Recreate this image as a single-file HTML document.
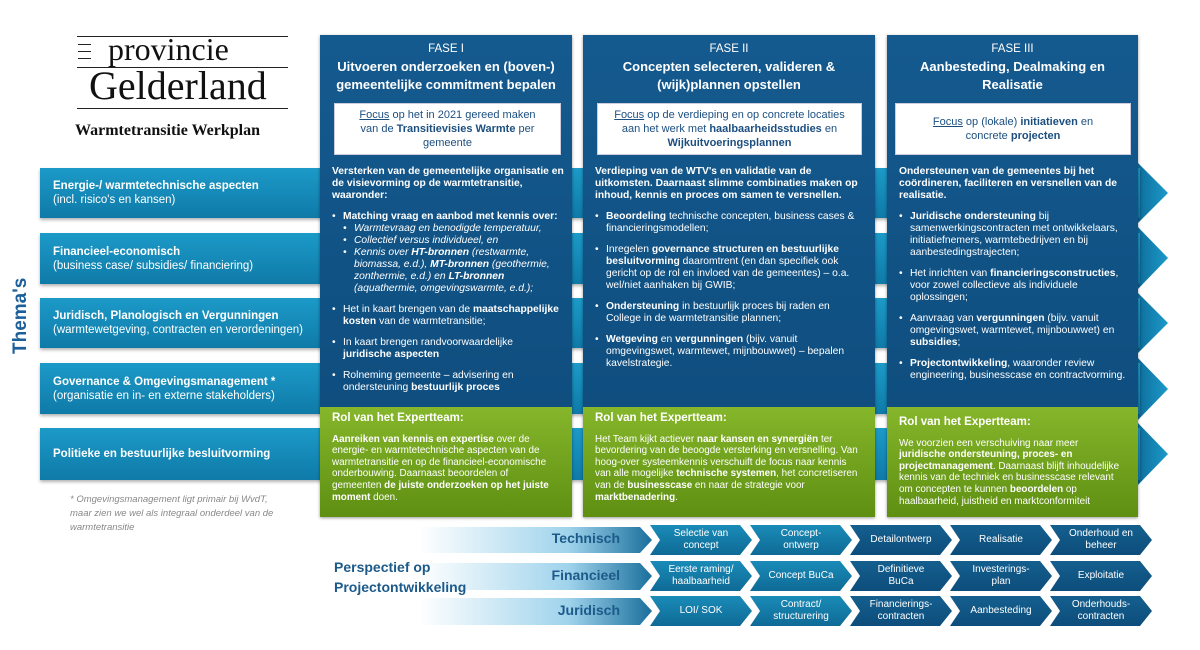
<!DOCTYPE html>
<html><head><meta charset="utf-8"><style>
*{margin:0;padding:0;box-sizing:border-box}
body{width:1200px;height:650px;background:#fff;position:relative;overflow:hidden;font-family:"Liberation Sans",sans-serif}
.a{position:absolute}
.bar{position:absolute;left:40px;width:1100px;background:linear-gradient(#1c9ac8,#0f7aa8);box-shadow:0 2px 3px rgba(0,0,0,.3);color:#fff;font-size:11.5px;padding-left:13px;line-height:14px;display:flex;flex-direction:column;justify-content:center}
.bar b{font-weight:bold}
.col{position:absolute;top:35px;background:linear-gradient(#155a8f,#0d4a7a);color:#fff;box-shadow:0 1px 3px rgba(0,0,0,.4)}
.hd{text-align:center;font-size:12.5px;line-height:17px;padding-top:6px}
.hd .f{font-size:11.5px}
.hd b{font-size:13px}
.focus{position:absolute;top:68px;height:52px;background:#fff;color:#1c4f80;font-size:11px;text-align:center;line-height:14px;display:flex;align-items:center;justify-content:center;border:1px solid #ccd}
.body{position:absolute;top:131px;left:12px;right:8px;font-size:10.3px;line-height:12px}
.body ul{list-style:none;margin-top:9px}
.body li{position:relative;padding-left:11px;margin-bottom:9px}
.body li:before{content:"•";position:absolute;left:0}
.body ul ul{margin-top:0}
.body ul ul li{margin-bottom:0;font-style:italic}
.green{position:absolute;top:372px;left:0;right:0;height:110px;background:linear-gradient(#86b62a,#5e8f12);padding:6px 12px;font-size:9.9px;line-height:11.6px}
.green .t{font-size:11.5px;font-weight:bold;margin-bottom:9px}
.lbl{position:absolute;font-weight:bold;color:#1c5a8a;font-size:14px;text-align:right}
.ch{position:absolute;color:#fff;font-size:10px;text-align:center;line-height:12px;display:flex;align-items:center;justify-content:center}
</style></head><body>
<div class="a" style="left:77px;top:36px;width:211px;height:1px;background:#222"></div>
<div class="a" style="left:77px;top:67px;width:211px;height:1px;background:#222"></div>
<div class="a" style="left:77px;top:108px;width:211px;height:1px;background:#222"></div>
<div class="a" style="left:78px;top:44px;width:13px;height:1px;background:#222"></div>
<div class="a" style="left:78px;top:51px;width:13px;height:1px;background:#222"></div>
<div class="a" style="left:78px;top:58px;width:13px;height:1px;background:#222"></div>
<div class="a" style="left:108px;top:31px;font-family:'Liberation Serif',serif;font-size:32px;color:#111">provincie</div>
<div class="a" style="left:89px;top:64px;font-family:'Liberation Serif',serif;font-size:40px;color:#111;line-height:44px">Gelderland</div>
<div class="a" style="left:75px;top:122px;font-family:'Liberation Serif',serif;font-size:16px;font-weight:bold;color:#111">Warmtetransitie Werkplan</div>
<div class="a" style="left:10px;top:354px;transform:rotate(-90deg);transform-origin:left top;font-size:19px;font-weight:bold;color:#1c5f99;width:90px">Thema's</div>

<svg class="a" style="left:0;top:0" width="1200" height="650">
<defs><linearGradient id="ag" x1="0" x2="1"><stop offset="0" stop-color="#0d6d9c"/><stop offset="1" stop-color="#1c9ac8"/></linearGradient></defs>
<polygon points="1137,162 1168,193 1137,224" fill="url(#ag)"/>
<polygon points="1137,226 1168,258 1137,290" fill="url(#ag)"/>
<polygon points="1137,292 1168,323 1137,354" fill="url(#ag)"/>
<polygon points="1137,357 1168,389 1137,421" fill="url(#ag)"/>
<polygon points="1137,422 1168,454 1137,486" fill="url(#ag)"/>
</svg>
<div class="bar" style="top:168px;height:50px"><b>Energie-/ warmtetechnische aspecten</b>(incl. risico's en kansen)</div>
<div class="bar" style="top:233px;height:51px"><b>Financieel-economisch</b>(business case/ subsidies/ financiering)</div>
<div class="bar" style="top:298px;height:50px"><b>Juridisch, Planologisch en Vergunningen</b>(warmtewetgeving, contracten en verordeningen)</div>
<div class="bar" style="top:363px;height:51px"><b>Governance &amp; Omgevingsmanagement *</b>(organisatie en in- en externe stakeholders)</div>
<div class="bar" style="top:428px;height:52px"><b>Politieke en bestuurlijke besluitvorming</b></div>
<div class="a" style="left:70px;top:493px;font-size:9.5px;font-style:italic;color:#888;line-height:14px">* Omgevingsmanagement ligt primair bij WvdT,<br>maar zien we wel als integraal onderdeel van de<br>warmtetransitie</div>

<div class="col" style="left:320px;width:252px;height:482px">
<div class="hd"><div class="f">FASE I</div><b>Uitvoeren onderzoeken en (boven-)<br>gemeentelijke commitment bepalen</b></div>
<div class="focus" style="left:14px;width:227px"><div><u>Focus</u> op het in 2021 gereed maken<br>van de <b>Transitievisies Warmte</b> per<br>gemeente</div></div>
<div class="body"><b>Versterken van de gemeentelijke organisatie en de visievorming op de warmtetransitie, waaronder:</b>
<ul><li><b>Matching vraag en aanbod met kennis over:</b>
<ul><li>Warmtevraag en benodigde temperatuur,</li><li>Collectief versus individueel, en</li><li>Kennis over <b>HT-bronnen</b> (restwarmte, biomassa, e.d.), <b>MT-bronnen</b> (geothermie, zonthermie, e.d.) en <b>LT-bronnen</b> (aquathermie, omgevingswarmte, e.d.);</li></ul></li>
<li>Het in kaart brengen van de <b>maatschappelijke kosten</b> van de warmtetransitie;</li>
<li>In kaart brengen randvoorwaardelijke <b>juridische aspecten</b></li>
<li>Rolneming gemeente – advisering en ondersteuning <b>bestuurlijk proces</b></li></ul></div>
<div class="green"><div class="t">Rol van het Expertteam:</div><b>Aanreiken van kennis en expertise</b> over de energie- en warmtetechnische aspecten van de warmtetransitie en op de financieel-economische onderbouwing. Daarnaast beoordelen of gemeenten <b>de juiste onderzoeken op het juiste moment</b> doen.</div>
</div>

<div class="col" style="left:583px;width:292px;height:482px">
<div class="hd"><div class="f">FASE II</div><b>Concepten selecteren, valideren &amp;<br>(wijk)plannen opstellen</b></div>
<div class="focus" style="left:14px;width:265px"><div><u>Focus</u> op de verdieping en op concrete locaties<br>aan het werk met <b>haalbaarheidsstudies</b> en<br><b>Wijkuitvoeringsplannen</b></div></div>
<div class="body"><b>Verdieping van de WTV's en validatie van de uitkomsten. Daarnaast slimme combinaties maken op inhoud, kennis en proces om samen te versnellen.</b>
<ul><li><b>Beoordeling</b> technische concepten, business cases &amp; financieringsmodellen;</li>
<li>Inregelen <b>governance structuren en bestuurlijke besluitvorming</b> daaromtrent (en dan specifiek ook gericht op de rol en invloed van de gemeentes) – o.a. wel/niet aanhaken bij GWIB;</li>
<li><b>Ondersteuning</b> in bestuurlijk proces bij raden en College in de warmtetransitie plannen;</li>
<li><b>Wetgeving</b> en <b>vergunningen</b> (bijv. vanuit omgevingswet, warmtewet, mijnbouwwet) – bepalen kavelstrategie.</li></ul></div>
<div class="green"><div class="t">Rol van het Expertteam:</div>Het Team kijkt actiever <b>naar kansen en synergiën</b> ter bevordering van de beoogde versterking en versnelling. Van hoog-over systeemkennis verschuift de focus naar kennis van alle mogelijke <b>technische systemen</b>, het concretiseren van de <b>businesscase</b> en naar de strategie voor <b>marktbenadering</b>.</div>
</div>

<div class="col" style="left:887px;width:251px;height:482px">
<div class="hd"><div class="f">FASE III</div><b>Aanbesteding, Dealmaking en<br>Realisatie</b></div>
<div class="focus" style="left:8px;width:236px"><div><u>Focus</u> op (lokale) <b>initiatieven</b> en<br>concrete <b>projecten</b></div></div>
<div class="body"><b>Ondersteunen van de gemeentes bij het coördineren, faciliteren en versnellen van de realisatie.</b>
<ul><li><b>Juridische ondersteuning</b> bij samenwerkingscontracten met ontwikkelaars, initiatiefnemers, warmtebedrijven en bij aanbestedingstrajecten;</li>
<li>Het inrichten van <b>financieringsconstructies</b>, voor zowel collectieve als individuele oplossingen;</li>
<li>Aanvraag van <b>vergunningen</b> (bijv. vanuit omgevingswet, warmtewet, mijnbouwwet) en <b>subsidies</b>;</li>
<li><b>Projectontwikkeling</b>, waaronder review engineering, businesscase en contractvorming.</li></ul></div>
<div class="green" style="padding-top:10px"><div class="t">Rol van het Expertteam:</div>We voorzien een verschuiving naar meer <b>juridische ondersteuning, proces- en projectmanagement</b>. Daarnaast blijft inhoudelijke kennis van de techniek en businesscase relevant om concepten te kunnen <b>beoordelen</b> op haalbaarheid, juistheid en marktconformiteit</div>
</div>

<svg class="a" style="left:0;top:0" width="1200" height="650">
<defs>
<linearGradient id="lg" x1="0" x2="1"><stop offset="0" stop-color="#fff"/><stop offset="0.3" stop-color="#fff"/><stop offset="0.75" stop-color="#9fd3ec"/><stop offset="1" stop-color="#1a6f9c"/></linearGradient>
<linearGradient id="cg" x1="0" y1="0" x2="0" y2="1"><stop offset="0" stop-color="#1a8bb8"/><stop offset="1" stop-color="#0f6a96"/></linearGradient>
<linearGradient id="cg2" x1="0" y1="0" x2="0" y2="1"><stop offset="0" stop-color="#145f8f"/><stop offset="1" stop-color="#0d4d7b"/></linearGradient>
</defs>
<polygon points="320,527 640,527 652,540 640,553 320,553" fill="url(#lg)"/>
<polygon points="320,563 640,563 652,576 640,590 320,590" fill="url(#lg)"/>
<polygon points="320,598 640,598 652,611 640,625 320,625" fill="url(#lg)"/>
<g fill="url(#cg)">
<polygon points="650,525 740,525 752,540 740,555 650,555 660,540"/>
<polygon points="750,525 840,525 852,540 840,555 750,555 760,540"/>
<polygon points="850,525 940,525 952,540 940,555 850,555 860,540" fill="url(#cg2)"/>
<polygon points="950,525 1040,525 1052,540 1040,555 950,555 960,540" fill="url(#cg2)"/>
<polygon points="1050,525 1140,525 1152,540 1140,555 1050,555 1060,540" fill="url(#cg2)"/>
<polygon points="650,561 740,561 752,576 740,591 650,591 660,576"/>
<polygon points="750,561 840,561 852,576 840,591 750,591 760,576"/>
<polygon points="850,561 940,561 952,576 940,591 850,591 860,576" fill="url(#cg2)"/>
<polygon points="950,561 1040,561 1052,576 1040,591 950,591 960,576" fill="url(#cg2)"/>
<polygon points="1050,561 1140,561 1152,576 1140,591 1050,591 1060,576" fill="url(#cg2)"/>
<polygon points="650,596 740,596 752,611 740,626 650,626 660,611"/>
<polygon points="750,596 840,596 852,611 840,626 750,626 760,611"/>
<polygon points="850,596 940,596 952,611 940,626 850,626 860,611" fill="url(#cg2)"/>
<polygon points="950,596 1040,596 1052,611 1040,626 950,626 960,611" fill="url(#cg2)"/>
<polygon points="1050,596 1140,596 1152,611 1140,626 1050,626 1060,611" fill="url(#cg2)"/>
</g>
</svg>
<div class="lbl" style="left:520px;top:530px;width:100px">Technisch</div>
<div class="lbl" style="left:520px;top:567px;width:100px">Financieel</div>
<div class="lbl" style="left:520px;top:602px;width:100px">Juridisch</div>
<div class="a" style="left:334px;top:557px;font-size:14px;font-weight:bold;color:#1c5a8a;line-height:20px">Perspectief op<br>Projectontwikkeling</div>

<div class="ch" style="left:658px;top:525px;width:86px;height:30px">Selectie van<br>concept</div>
<div class="ch" style="left:758px;top:525px;width:86px;height:30px">Concept-<br>ontwerp</div>
<div class="ch" style="left:858px;top:525px;width:86px;height:30px">Detailontwerp</div>
<div class="ch" style="left:958px;top:525px;width:86px;height:30px">Realisatie</div>
<div class="ch" style="left:1058px;top:525px;width:86px;height:30px">Onderhoud en<br>beheer</div>
<div class="ch" style="left:658px;top:561px;width:86px;height:30px">Eerste raming/<br>haalbaarheid</div>
<div class="ch" style="left:758px;top:561px;width:86px;height:30px">Concept BuCa</div>
<div class="ch" style="left:858px;top:561px;width:86px;height:30px">Definitieve<br>BuCa</div>
<div class="ch" style="left:958px;top:561px;width:86px;height:30px">Investerings-<br>plan</div>
<div class="ch" style="left:1058px;top:561px;width:86px;height:30px">Exploitatie</div>
<div class="ch" style="left:658px;top:596px;width:86px;height:30px">LOI/ SOK</div>
<div class="ch" style="left:758px;top:596px;width:86px;height:30px">Contract/<br>structurering</div>
<div class="ch" style="left:858px;top:596px;width:86px;height:30px">Financierings-<br>contracten</div>
<div class="ch" style="left:958px;top:596px;width:86px;height:30px">Aanbesteding</div>
<div class="ch" style="left:1058px;top:596px;width:86px;height:30px">Onderhouds-<br>contracten</div>
</body></html>
